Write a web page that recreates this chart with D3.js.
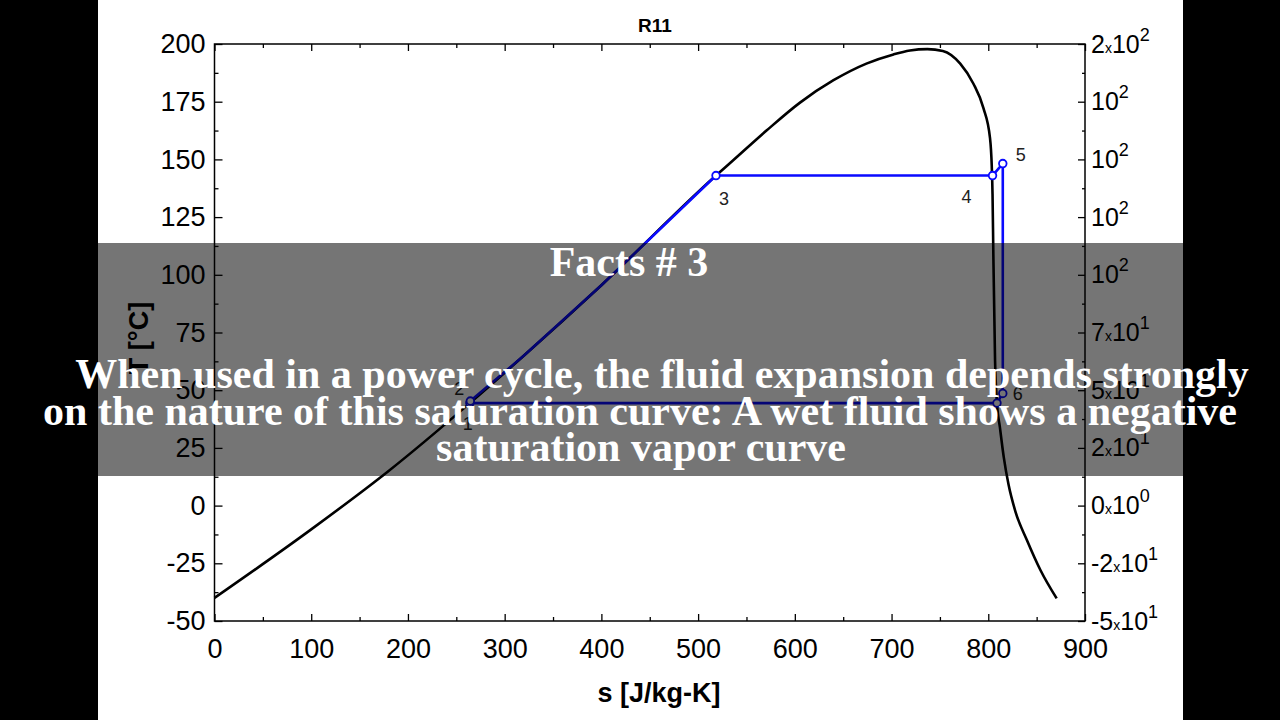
<!DOCTYPE html>
<html>
<head>
<meta charset="utf-8">
<script src="https://cdn.jsdelivr.net/npm/d3@7"></script>
<style>
  body { margin: 0; background: #000; }
  svg { display: block; }
</style>
</head>
<body>
<div id="grafico"></div>
<script>
// saturation dome of R11 (entropy vs temperature)
const satS = [0, 100, 180, 264, 320, 400, 518.5, 536, 571, 605, 640, 674, 702, 719, 737, 753,
              771, 784.5, 795, 801.8, 803.6, 804.4, 805.2, 807, 809, 812, 816, 821, 828, 840, 854, 870.7];
const satT = [-40, -10.3, 15, 44.4, 65, 95.5, 143, 149.5, 162.6, 174.5, 184.3, 191.5, 195.5, 197.2, 197.8, 197,
              191.5, 182.9, 172.2, 159.2, 147, 135, 110, 63, 44.4, 34, 21, 9, -2.5, -15, -28, -40.2];

// cycle path (blue) and its state points
const cycleS = [264, 264.5, 320, 400, 518.5, 804.4, 815, 815, 809, 264];
const cycleT = [44.4, 45.3, 65, 95.5, 143, 143, 148.2, 48.6, 44.4, 44.4];
const stateS = [264, 264.5, 518.5, 804.4, 815, 815, 809];
const stateT = [44.4, 45.3, 143, 143, 148.2, 48.6, 44.4];
const stateLabels = ["1", "2", "3", "4", "5", "6", ""];

// axis ticks
const xTicks = [0, 100, 200, 300, 400, 500, 600, 700, 800, 900];
const xMinor = [50, 150, 250, 350, 450, 550, 650, 750, 850];
const yTicks = [-50, -25, 0, 25, 50, 75, 100, 125, 150, 175, 200];
const yMinor = [-37.5, -12.5, 12.5, 37.5, 62.5, 87.5, 112.5, 137.5, 162.5, 187.5];
const rightMantissa = ["-5", "-2", "0", "2", "5", "7", "", "", "", "", "2"];
const rightExponent = ["1", "1", "0", "1", "1", "1", "2", "2", "2", "2", "2"];

const captionTitle = "Facts # 3";
const captionLines = [
    "When used in a power cycle, the fluid expansion depends strongly",
    "on the nature of this saturation curve: A wet fluid shows a negative",
    "saturation vapor curve"
];

const width = 1280;
const height = 720;
const plot = { left: 214.5, right: 1085, top: 44, bottom: 621 };
const sansFont = "'Liberation Sans', Arial, Helvetica, sans-serif";
const serifFont = "'Liberation Serif', 'Times New Roman', serif";

// offsets of the state labels from their points, in pixels
const labelOffset = {
    "1": [-2, 21], "2": [-11, -12], "3": [8, 23], "4": [-26, 21], "5": [18, -9], "6": [15, 1]
};

const svg = d3.select('#grafico')
    .append('svg')
    .attr('width', width)
    .attr('height', height);

svg.append('rect')
    .attr('width', width)
    .attr('height', height)
    .attr('fill', '#000');

// white panel
svg.append('rect')
    .attr('x', 98)
    .attr('y', 0)
    .attr('width', 1085)
    .attr('height', height)
    .attr('fill', '#fff');

const xScale = d3.scaleLinear()
    .domain([0, 900])
    .range([plot.left, plot.right]);

const yScale = d3.scaleLinear()
    .domain([-50, 200])
    .range([plot.bottom, plot.top]);

const plain = d => String(d);

// Ejes: ticks mayores con etiquetas, menores sin etiquetas
function styleAxis(g) {
    g.select('.domain').remove();
    g.selectAll('.tick line').attr('stroke', '#000').attr('stroke-width', 1.3);
    g.selectAll('.tick text')
        .attr('fill', '#000')
        .attr('font-family', sansFont)
        .attr('font-size', 27);
}

svg.append('g')
    .attr('transform', `translate(0, ${plot.bottom})`)
    .call(d3.axisBottom(xScale).tickValues(xTicks).tickSizeInner(-7).tickSizeOuter(0).tickPadding(18)
        .tickFormat(plain))
    .call(styleAxis)
    .call(g => g.selectAll('.tick text').attr('dy', '0.71em'));

svg.append('g')
    .attr('transform', `translate(0, ${plot.bottom})`)
    .call(d3.axisBottom(xScale).tickValues(xMinor).tickSizeInner(-4).tickSizeOuter(0).tickFormat(''))
    .call(styleAxis);

svg.append('g')
    .attr('transform', `translate(0, ${plot.top})`)
    .call(d3.axisTop(xScale).tickValues(xTicks).tickSizeInner(-7).tickSizeOuter(0).tickFormat(''))
    .call(styleAxis);

svg.append('g')
    .attr('transform', `translate(0, ${plot.top})`)
    .call(d3.axisTop(xScale).tickValues(xMinor).tickSizeInner(-4).tickSizeOuter(0).tickFormat(''))
    .call(styleAxis);

svg.append('g')
    .attr('transform', `translate(${plot.left}, 0)`)
    .call(d3.axisLeft(yScale).tickValues(yTicks).tickSizeInner(-8).tickSizeOuter(0).tickPadding(9)
        .tickFormat(plain))
    .call(styleAxis);

svg.append('g')
    .attr('transform', `translate(${plot.left}, 0)`)
    .call(d3.axisLeft(yScale).tickValues(yMinor).tickSizeInner(-4).tickSizeOuter(0).tickFormat(''))
    .call(styleAxis);

const rightAxis = svg.append('g')
    .attr('transform', `translate(${plot.right}, 0)`)
    .call(d3.axisRight(yScale).tickValues(yTicks).tickSizeInner(-7).tickSizeOuter(0).tickPadding(6)
        .tickFormat(''))
    .call(styleAxis);

rightAxis.selectAll('.tick text')
    .attr('font-size', 25)
    .each(function (d, i) {
        const t = d3.select(this);
        if (rightMantissa[i] !== '') {
            t.append('tspan').text(rightMantissa[i]);
            t.append('tspan').attr('font-size', 14).text('x');
        }
        t.append('tspan').text('10');
        t.append('tspan').attr('font-size', 18).attr('dy', -12).text(rightExponent[i]);
    });

svg.append('g')
    .attr('transform', `translate(${plot.right}, 0)`)
    .call(d3.axisRight(yScale).tickValues(yMinor).tickSizeInner(-3).tickSizeOuter(0).tickFormat(''))
    .call(styleAxis);

// marco
svg.append('rect')
    .attr('x', plot.left)
    .attr('y', plot.top)
    .attr('width', plot.right - plot.left)
    .attr('height', plot.bottom - plot.top)
    .attr('fill', 'none')
    .attr('stroke', '#000')
    .attr('stroke-width', 1.5);

// curva de saturacion
const satLine = d3.line()
    .x((d, i) => xScale(satS[i]))
    .y((d, i) => yScale(satT[i]))
    .curve(d3.curveMonotoneX);

svg.append('path')
    .datum(satS)
    .attr('d', satLine)
    .attr('fill', 'none')
    .attr('stroke', '#000')
    .attr('stroke-width', 2.6);

// ciclo
const cycleLine = d3.line()
    .x((d, i) => xScale(cycleS[i]))
    .y((d, i) => yScale(cycleT[i]));

svg.append('path')
    .datum(cycleS)
    .attr('d', cycleLine)
    .attr('fill', 'none')
    .attr('stroke', '#0a0aff')
    .attr('stroke-width', 2.6)
    .attr('stroke-linejoin', 'round');

svg.selectAll('circle.state')
    .data(stateS)
    .enter()
    .append('circle')
    .attr('class', 'state')
    .attr('cx', d => xScale(d))
    .attr('cy', (d, i) => yScale(stateT[i]))
    .attr('r', 3.8)
    .attr('fill', '#fff')
    .attr('stroke', '#0a0aff')
    .attr('stroke-width', 1.8);

svg.selectAll('text.state')
    .data(stateLabels.filter(l => l !== ''))
    .enter()
    .append('text')
    .attr('class', 'state')
    .attr('x', (d, i) => xScale(stateS[i]) + labelOffset[d][0])
    .attr('y', (d, i) => yScale(stateT[i]) + labelOffset[d][1])
    .attr('text-anchor', 'middle')
    .attr('dominant-baseline', 'central')
    .attr('font-family', sansFont)
    .attr('font-size', 18)
    .attr('fill', '#222')
    .text(d => d);

// titulo y etiquetas de ejes
svg.append('text')
    .attr('x', 655)
    .attr('y', 32)
    .attr('text-anchor', 'middle')
    .attr('font-family', sansFont)
    .attr('font-weight', 'bold')
    .attr('font-size', 19)
    .text('R11');

svg.append('text')
    .attr('x', 659)
    .attr('y', 702)
    .attr('text-anchor', 'middle')
    .attr('font-family', sansFont)
    .attr('font-weight', 'bold')
    .attr('font-size', 27)
    .text('s [J/kg-K]');

svg.append('text')
    .attr('transform', 'translate(148, 338) rotate(-90)')
    .attr('text-anchor', 'middle')
    .attr('font-family', sansFont)
    .attr('font-weight', 'bold')
    .attr('font-size', 27)
    .text('T [°C]');

// banda gris con el texto
svg.append('rect')
    .attr('x', 98)
    .attr('y', 243)
    .attr('width', 1085)
    .attr('height', 233)
    .attr('fill', '#000')
    .attr('opacity', 0.54);

svg.append('text')
    .attr('x', 629)
    .attr('y', 276)
    .attr('text-anchor', 'middle')
    .attr('font-family', serifFont)
    .attr('font-weight', 'bold')
    .attr('font-size', 42)
    .attr('fill', '#fff')
    .text(captionTitle);

const lineX = [662, 640, 641];
svg.selectAll('text.caption')
    .data(captionLines)
    .enter()
    .append('text')
    .attr('class', 'caption')
    .attr('x', (d, i) => lineX[i])
    .attr('y', (d, i) => 388 + i * 36.5)
    .attr('text-anchor', 'middle')
    .attr('font-family', serifFont)
    .attr('font-weight', 'bold')
    .attr('font-size', 42)
    .attr('fill', '#fff')
    .text(d => d);
</script>
</body>
</html>
